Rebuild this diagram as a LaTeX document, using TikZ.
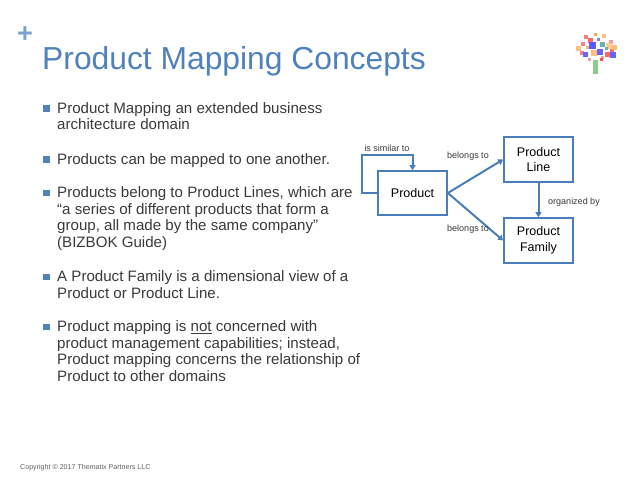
\documentclass[tikz,border=0pt]{standalone}
\usepackage{fontspec}
\setmainfont{Liberation Sans}
\usetikzlibrary{arrows.meta}
\definecolor{blu}{HTML}{4A7EBB}
\definecolor{titleblu}{HTML}{4F81BD}
\definecolor{txt}{HTML}{3A3A3A}
\tikzset{
  x=1pt,y=-1pt,
  box/.style={draw=blu,line width=1.7pt,fill=white,inner sep=0pt,align=center,font=\fontsize{12.5}{15.5}\selectfont,text=black},
  conn/.style={draw=blu,line width=2pt,-{Triangle[length=5pt,width=6pt]}},
  lab/.style={font=\fontsize{9}{11}\selectfont,text=txt,inner sep=0pt},
  bul/.style={fill=titleblu,draw=none,minimum size=6.5pt,inner sep=0pt},
  body/.style={anchor=north west,align=left,inner sep=0pt,text=txt,font=\fontsize{15.1}{16.65}\selectfont}
}
\begin{document}
\begin{tikzpicture}
\useasboundingbox (0,0) rectangle (638,478);
\fill[white] (0,0) rectangle (638,478);
% title
\node[inner sep=0pt,anchor=center,text=titleblu!75!white,font=\bfseries\fontsize{27}{27}\selectfont] (plus) at (25,35) {+};
\node[anchor=base west,inner sep=0pt,text=titleblu,font=\fontsize{31.8}{34}\selectfont] (title) at (42,70) {Product Mapping Concepts};
% bullets
\node[bul] (b1) at (46.5,108.5) {};
\node[body] (t1) at (57,102) {Product Mapping an extended business\\architecture domain};
\node[bul] (b2) at (46.5,159.5) {};
\node[body] (t2) at (57,153) {Products can be mapped to one another.};
\node[bul] (b3) at (46.5,193) {};
\node[body] (t3) at (57,186.5) {Products belong to Product Lines, which are\\“a series of different products that form a\\group, all made by the same company”\\(BIZBOK Guide)};
\node[bul] (b4) at (46.5,277) {};
\node[body] (t4) at (57,270.5) {A Product Family is a dimensional view of a\\Product or Product Line.};
\node[bul] (b5) at (46.5,327) {};
\node[body] (t5) at (57,320.5) {Product mapping is \underline{not} concerned with\\product management capabilities; instead,\\Product mapping concerns the relationship of\\Product to other domains};
% diagram
\node[box,minimum width=69pt,minimum height=44pt] (prod) at (412.5,193) {Product};
\node[box,minimum width=69pt,minimum height=45pt] (line) at (538.5,159.5) {Product\\Line};
\node[box,minimum width=69pt,minimum height=45pt] (fam) at (538.5,240.5) {Product\\Family};
\draw[conn] (prod.west) -- (362,193) -- (362,155) -- (412.5,155) -- (prod.north);
\draw[conn] (prod.east) -- (line.west);
\draw[conn] (prod.east) -- (fam.west);
\draw[conn] (line.south) -- (fam.north);
\node[lab] (l1) at (387,148) {is similar to};
\node[lab] (l2) at (468,156.5) {belongs to};
\node[lab] (l3) at (468,229.5) {belongs to};
\node[lab] (l4) at (574,202) {organized by};
% tree
\fill[green!55!black!45!white] (592.5,60) rectangle (597.5,74);
\foreach \x/\y/\s/\c in {
 595/35/3/orange!70, 586/37/4/red!50, 604/36/4/orange!50, 590/41/5/red!60, 598/40/3/blue!50, 611/42/4/red!40,
 583/44/4/red!50, 592/46/7/blue!65, 602/45/5/teal!60, 609/46/6/orange!40, 578/49/5/orange!50, 587/48/3/orange!60,
 600/52/6/blue!60, 612/51/4/red!60, 582/53/4/red!50, 606/49/3/teal!60, 619/49/0/orange!60,
 614/48/5/orange!55, 594/53/6/orange!50, 585/55/5/blue!60, 607/55/5/red!60, 613/55/6/blue!60, 602/58/3/red!40, 589/60/3/purple!40, 601/60/3/red!70}
  \fill[\c] (\x-\s/2,\y-\s/2) rectangle (\x+\s/2,\y+\s/2);
% footer
\node[anchor=base west,inner sep=0pt,text=txt!80,font=\fontsize{7.1}{9}\selectfont] (foot) at (20,470) {Copyright © 2017 Thematix Partners LLC};
\end{tikzpicture}
\end{document}
